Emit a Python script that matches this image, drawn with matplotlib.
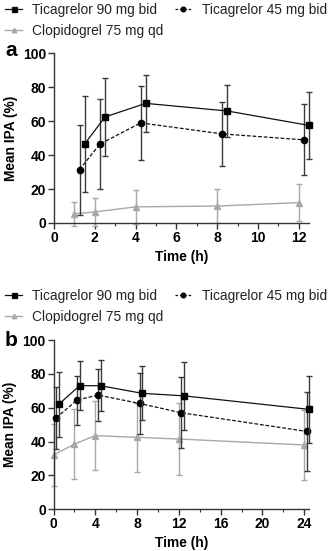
import matplotlib
matplotlib.use("Agg")
import matplotlib.pyplot as plt
from matplotlib.ticker import MultipleLocator
from matplotlib.lines import Line2D

plt.rcParams['font.family'] = ['Liberation Sans', 'DejaVu Sans']

# ---------------- Data ----------------
# Panel a (day 1, 0-12 h); plotted times include small display offsets
a_t90 = [1.5, 2.5, 4.5, 8.5, 12.5]
a_m90 = [46.5, 62.5, 70.5, 66.0, 57.5]
a_e90 = [28.5, 23.0, 17.0, 15.5, 19.5]
a_t45 = [1.25, 2.25, 4.25, 8.25, 12.25]
a_m45 = [31.5, 46.5, 59.0, 52.5, 49.0]
a_e45 = [26.5, 26.5, 22.0, 19.0, 21.0]
a_tc = [1, 2, 4, 8, 12]
a_mc = [5.5, 6.5, 9.5, 10.0, 12.0]
a_ec = [7.0, 8.0, 10.0, 10.0, 11.0]

# Panel b (steady state, 0-24 h)
b_t90 = [0.5, 2.5, 4.5, 8.5, 12.5, 24.5]
b_m90 = [62.0, 73.0, 73.0, 68.5, 67.0, 59.0]
b_e90 = [19.0, 14.5, 15.0, 16.0, 20.0, 20.0]
b_t45 = [0.25, 2.25, 4.25, 8.25, 12.25, 24.25]
b_m45 = [54.0, 64.5, 67.5, 62.5, 57.0, 46.0]
b_e45 = [18.5, 14.5, 15.5, 18.0, 21.0, 23.5]
b_tc = [0, 2, 4, 8, 12, 24]
b_mc = [32.0, 38.5, 43.5, 42.5, 41.5, 38.0]
b_ec = [18.5, 20.5, 20.5, 20.5, 21.5, 20.5]

labels = ["Ticagrelor 90 mg bid", "Ticagrelor 45 mg bid", "Clopidogrel 75 mg qd"]

W, H = 332, 551
fig = plt.figure(figsize=(W / 100, H / 100), dpi=100)

DARK = '#111111'
ERR_DARK = '#3a3a3a'
GREY = '#a8a8a8'

def fx(px):
    return px / W

def fy(py):
    return 1 - py / H

def panel(rect, xmax, xmajor, data, letter, letter_y, leg_y):
    ax = fig.add_axes(rect)
    (t90, m90, e90), (t45, m45, e45), (tc, mc, ec) = data
    # clopidogrel
    ax.errorbar(tc, mc, yerr=ec, color=GREY, ecolor=GREY, elinewidth=1.0, capsize=2.3,
                capthick=1.0, lw=1.0, marker='^', ms=4, mfc=GREY, mec=GREY,
                clip_on=False, zorder=2)
    ax.errorbar(t45, m45, yerr=e45, color=DARK, ecolor=ERR_DARK, elinewidth=1.0, capsize=2.3,
                capthick=1.0, lw=0.9, ls=(0, (3, 1.5)), marker='o', ms=4.5, mfc='black',
                mec='black', clip_on=False, zorder=3)
    ax.errorbar(t90, m90, yerr=e90, color=DARK, ecolor=ERR_DARK, elinewidth=1.0, capsize=2.3,
                capthick=1.0, lw=0.9, marker='s', ms=5, mfc='black', mec='black',
                clip_on=False, zorder=4)
    ax.set_xlim(0, xmax)
    ax.set_ylim(0, 100)
    ax.xaxis.set_major_locator(MultipleLocator(xmajor))
    ax.xaxis.set_minor_locator(MultipleLocator(xmajor / 2))
    ax.yaxis.set_major_locator(MultipleLocator(20))
    for s in ['top', 'right']:
        ax.spines[s].set_visible(False)
    for s in ['left', 'bottom']:
        ax.spines[s].set_color('#333333')
        ax.spines[s].set_linewidth(1.0)
    ax.tick_params(which='major', length=4, width=1.0, color='#333333', labelsize=10, pad=1.5)
    ax.tick_params(which='minor', length=2.5, width=0.8, color='#333333')
    for lab in ax.get_xticklabels() + ax.get_yticklabels():
        lab.set_fontweight('bold')
    ax.set_xlabel('Time (h)', fontsize=9.9, fontweight='bold', labelpad=3.5)
    ax.set_ylabel('Mean IPA (%)', fontsize=9.9, fontweight='bold', labelpad=4)
    fig.text(fx(5), fy(letter_y), letter, fontsize=15, fontweight='bold', va='center', ha='left')

    handles = [
        Line2D([], [], color=DARK, lw=0.9, marker='s', ms=3.6, mfc='black'),
        Line2D([], [], color=GREY, lw=1.0, marker='^', ms=3.2, mfc=GREY, mec=GREY),
        Line2D([], [], color=DARK, lw=0.9, ls=(0, (2, 1.5)), marker='o', ms=3.4, mfc='black'),
    ]
    labs = [labels[0], labels[2], labels[1]]
    fig.legend(handles, labs, loc='upper left', bbox_to_anchor=(fx(2.3), fy(leg_y)),
               ncol=2, frameon=False, fontsize=9.9, handlelength=1.25, handletextpad=0.7,
               columnspacing=0.85, labelspacing=0.5, borderaxespad=0, borderpad=0.2,
               labelcolor='#222222')
    return ax

# panel a: x0 px 54, 20.4 px/unit; y0 px 223, y100 px 53.3
xa0, xa_unit, xa_max = 54, 20.4, 12.5
panel([fx(xa0), fy(223), fx(xa_max * xa_unit), (223 - 53.3) / H], xa_max, 2,
      [(a_t90, a_m90, a_e90), (a_t45, a_m45, a_e45), (a_tc, a_mc, a_ec)],
      'a', 50, 0.5)

xb0, xb_unit, xb_max = 53.5, 10.446, 24.5
panel([fx(xb0), fy(509.3), fx(xb_max * xb_unit), (509.3 - 340) / H], xb_max, 4,
      [(b_t90, b_m90, b_e90), (b_t45, b_m45, b_e45), (b_tc, b_mc, b_ec)],
      'b', 340, 286)

fig.savefig('out.png', dpi=100, facecolor='white')
